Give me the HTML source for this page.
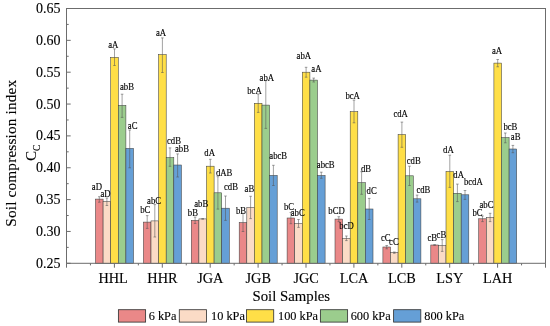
<!DOCTYPE html>
<html lang="en"><head><meta charset="utf-8"><title>Soil compression index</title>
<style>html,body{margin:0;padding:0;background:#fff}svg{display:block}text{font-family:"Liberation Serif","Times New Roman",serif;fill:#000;stroke:#000;stroke-width:0.12px}</style></head><body>
<svg width="550" height="326" viewBox="0 0 550 326">
<rect width="550" height="326" fill="#fff"/>
<g stroke="#404040" stroke-width="0.55">
<rect x="95.50" y="199.1" width="7.6" height="64.2" fill="#ea8888"/>
<rect x="103.10" y="201.4" width="7.6" height="61.9" fill="#fbdbc6"/>
<rect x="110.70" y="57.4" width="7.6" height="205.9" fill="#ffdf47"/>
<rect x="118.30" y="105.4" width="7.6" height="157.9" fill="#9bcd8d"/>
<rect x="125.90" y="148.4" width="7.6" height="114.9" fill="#659fd6"/>
<rect x="143.40" y="222.1" width="7.6" height="41.2" fill="#ea8888"/>
<rect x="151.00" y="220.9" width="7.6" height="42.4" fill="#fbdbc6"/>
<rect x="158.60" y="54.6" width="7.6" height="208.7" fill="#ffdf47"/>
<rect x="166.20" y="157.6" width="7.6" height="105.7" fill="#9bcd8d"/>
<rect x="173.80" y="165.0" width="7.6" height="98.3" fill="#659fd6"/>
<rect x="191.30" y="220.4" width="7.6" height="42.9" fill="#ea8888"/>
<rect x="198.90" y="218.9" width="7.6" height="44.4" fill="#fbdbc6"/>
<rect x="206.50" y="166.2" width="7.6" height="97.1" fill="#ffdf47"/>
<rect x="214.10" y="192.8" width="7.6" height="70.5" fill="#9bcd8d"/>
<rect x="221.70" y="208.2" width="7.6" height="55.1" fill="#659fd6"/>
<rect x="239.20" y="222.6" width="7.6" height="40.7" fill="#ea8888"/>
<rect x="246.80" y="207.5" width="7.6" height="55.8" fill="#fbdbc6"/>
<rect x="254.40" y="103.3" width="7.6" height="160.0" fill="#ffdf47"/>
<rect x="262.00" y="105.1" width="7.6" height="158.2" fill="#9bcd8d"/>
<rect x="269.60" y="175.4" width="7.6" height="87.9" fill="#659fd6"/>
<rect x="287.10" y="218.0" width="7.6" height="45.3" fill="#ea8888"/>
<rect x="294.70" y="223.5" width="7.6" height="39.8" fill="#fbdbc6"/>
<rect x="302.30" y="72.2" width="7.6" height="191.1" fill="#ffdf47"/>
<rect x="309.90" y="80.1" width="7.6" height="183.2" fill="#9bcd8d"/>
<rect x="317.50" y="175.5" width="7.6" height="87.8" fill="#659fd6"/>
<rect x="335.00" y="219.1" width="7.6" height="44.2" fill="#ea8888"/>
<rect x="342.60" y="238.4" width="7.6" height="24.9" fill="#fbdbc6"/>
<rect x="350.20" y="111.7" width="7.6" height="151.6" fill="#ffdf47"/>
<rect x="357.80" y="182.7" width="7.6" height="80.6" fill="#9bcd8d"/>
<rect x="365.40" y="209.0" width="7.6" height="54.3" fill="#659fd6"/>
<rect x="382.90" y="247.0" width="7.6" height="16.3" fill="#ea8888"/>
<rect x="390.50" y="252.5" width="7.6" height="10.8" fill="#fbdbc6"/>
<rect x="398.10" y="134.6" width="7.6" height="128.7" fill="#ffdf47"/>
<rect x="405.70" y="175.8" width="7.6" height="87.5" fill="#9bcd8d"/>
<rect x="413.30" y="198.8" width="7.6" height="64.5" fill="#659fd6"/>
<rect x="430.80" y="245.0" width="7.6" height="18.3" fill="#ea8888"/>
<rect x="438.40" y="245.5" width="7.6" height="17.8" fill="#fbdbc6"/>
<rect x="446.00" y="171.5" width="7.6" height="91.8" fill="#ffdf47"/>
<rect x="453.60" y="193.3" width="7.6" height="70.0" fill="#9bcd8d"/>
<rect x="461.20" y="194.8" width="7.6" height="68.5" fill="#659fd6"/>
<rect x="478.70" y="218.8" width="7.6" height="44.5" fill="#ea8888"/>
<rect x="486.30" y="217.5" width="7.6" height="45.8" fill="#fbdbc6"/>
<rect x="493.90" y="63.1" width="7.6" height="200.2" fill="#ffdf47"/>
<rect x="501.50" y="137.6" width="7.6" height="125.7" fill="#9bcd8d"/>
<rect x="509.10" y="149.0" width="7.6" height="114.3" fill="#659fd6"/>
</g>
<g stroke="#555" stroke-width="0.55" fill="none">
<path d="M99.30 196.7V202.2M98.00 196.7H100.60M98.00 202.2H100.60"/>
<path d="M106.90 198.0V205.5M105.60 198.0H108.20M105.60 205.5H108.20"/>
<path d="M114.50 48.9V65.5M113.20 48.9H115.80M113.20 65.5H115.80"/>
<path d="M122.10 94.2V117.4M120.80 94.2H123.40M120.80 117.4H123.40"/>
<path d="M129.70 130.0V167.8M128.40 130.0H131.00M128.40 167.8H131.00"/>
<path d="M147.20 215.6V228.4M145.90 215.6H148.50M145.90 228.4H148.50"/>
<path d="M154.80 204.6V237.0M153.50 204.6H156.10M153.50 237.0H156.10"/>
<path d="M162.40 37.9V72.5M161.10 37.9H163.70M161.10 72.5H163.70"/>
<path d="M170.00 147.9V166.3M168.70 147.9H171.30M168.70 166.3H171.30"/>
<path d="M177.60 153.9V177.0M176.30 153.9H178.90M176.30 177.0H178.90"/>
<path d="M195.10 217.1V223.5M193.80 217.1H196.40M193.80 223.5H196.40"/>
<path d="M202.70 218.6V219.2M201.40 218.6H204.00M201.40 219.2H204.00"/>
<path d="M210.30 159.3V173.0M209.00 159.3H211.60M209.00 173.0H211.60"/>
<path d="M217.90 176.7V209.1M216.60 176.7H219.20M216.60 209.1H219.20"/>
<path d="M225.50 196.0V220.4M224.20 196.0H226.80M224.20 220.4H226.80"/>
<path d="M243.00 213.4V231.5M241.70 213.4H244.30M241.70 231.5H244.30"/>
<path d="M250.60 196.3V218.6M249.30 196.3H251.90M249.30 218.6H251.90"/>
<path d="M258.20 94.0V112.4M256.90 94.0H259.50M256.90 112.4H259.50"/>
<path d="M265.80 80.6V128.4M264.50 80.6H267.10M264.50 128.4H267.10"/>
<path d="M273.40 165.3V185.5M272.10 165.3H274.70M272.10 185.5H274.70"/>
<path d="M290.90 212.5V223.7M289.60 212.5H292.20M289.60 223.7H292.20"/>
<path d="M298.50 219.5V227.4M297.20 219.5H299.80M297.20 227.4H299.80"/>
<path d="M306.10 67.3V77.2M304.80 67.3H307.40M304.80 77.2H307.40"/>
<path d="M313.70 78.1V82.0M312.40 78.1H315.00M312.40 82.0H315.00"/>
<path d="M321.30 172.2V178.3M320.00 172.2H322.60M320.00 178.3H322.60"/>
<path d="M338.80 216.7V221.7M337.50 216.7H340.10M337.50 221.7H340.10"/>
<path d="M346.40 236.0V240.6M345.10 236.0H347.70M345.10 240.6H347.70"/>
<path d="M354.00 100.1V122.8M352.70 100.1H355.30M352.70 122.8H355.30"/>
<path d="M361.60 171.7V194.3M360.30 171.7H362.90M360.30 194.3H362.90"/>
<path d="M369.20 198.4V219.5M367.90 198.4H370.50M367.90 219.5H370.50"/>
<path d="M386.70 245.5V248.8M385.40 245.5H388.00M385.40 248.8H388.00"/>
<path d="M394.30 252.0V253.3M393.00 252.0H395.60M393.00 253.3H395.60"/>
<path d="M401.90 122.1V147.3M400.60 122.1H403.20M400.60 147.3H403.20"/>
<path d="M409.50 166.2V185.5M408.20 166.2H410.80M408.20 185.5H410.80"/>
<path d="M417.10 195.1V202.1M415.80 195.1H418.40M415.80 202.1H418.40"/>
<path d="M434.60 244.7V245.3M433.30 244.7H435.90M433.30 245.3H435.90"/>
<path d="M442.20 239.6V251.4M440.90 239.6H443.50M440.90 251.4H443.50"/>
<path d="M449.80 155.2V187.4M448.50 155.2H451.10M448.50 187.4H451.10"/>
<path d="M457.40 184.1V201.6M456.10 184.1H458.70M456.10 201.6H458.70"/>
<path d="M465.00 190.5V199.4M463.70 190.5H466.30M463.70 199.4H466.30"/>
<path d="M482.50 216.0V221.6M481.20 216.0H483.80M481.20 221.6H483.80"/>
<path d="M490.10 213.3V221.6M488.80 213.3H491.40M488.80 221.6H491.40"/>
<path d="M497.70 59.5V66.8M496.40 59.5H499.00M496.40 66.8H499.00"/>
<path d="M505.30 133.0V142.8M504.00 133.0H506.60M504.00 142.8H506.60"/>
<path d="M512.90 145.4V152.7M511.60 145.4H514.20M511.60 152.7H514.20"/>
</g>
<rect x="66.5" y="8.5" width="479.0" height="254.8" fill="none" stroke="#6c6c6c" stroke-width="1"/>
<path d="M66.5 263.30h4.2M66.5 247.38h2.2M66.5 231.45h4.2M66.5 215.53h2.2M66.5 199.60h4.2M66.5 183.68h2.2M66.5 167.75h4.2M66.5 151.82h2.2M66.5 135.90h4.2M66.5 119.98h2.2M66.5 104.05h4.2M66.5 88.13h2.2M66.5 72.20h4.2M66.5 56.27h2.2M66.5 40.35h4.2M66.5 24.42h2.2M66.5 8.50h4.2M66.50 263.3v4.4M90.45 263.3v2.1M114.40 263.3v4.4M138.35 263.3v2.1M162.30 263.3v4.4M186.25 263.3v2.1M210.20 263.3v4.4M234.15 263.3v2.1M258.10 263.3v4.4M282.05 263.3v2.1M306.00 263.3v4.4M329.95 263.3v2.1M353.90 263.3v4.4M377.85 263.3v2.1M401.80 263.3v4.4M425.75 263.3v2.1M449.70 263.3v4.4M473.65 263.3v2.1M497.60 263.3v4.4M521.55 263.3v2.1M545.50 263.3v4.4" stroke="#6c6c6c" stroke-width="1" fill="none"/>
<g font-size="14" text-anchor="end">
<text x="60.6" y="267.7">0.25</text>
<text x="60.6" y="235.9">0.30</text>
<text x="60.6" y="204.0">0.35</text>
<text x="60.6" y="172.2">0.40</text>
<text x="60.6" y="140.3">0.45</text>
<text x="60.6" y="108.5">0.50</text>
<text x="60.6" y="76.6">0.55</text>
<text x="60.6" y="44.7">0.60</text>
<text x="60.6" y="12.9">0.65</text>
</g>
<g font-size="14.3" text-anchor="middle">
<text transform="translate(113.1 282.5) scale(1 1.045)">HHL</text>
<text transform="translate(162.4 282.5) scale(1 1.045)">HHR</text>
<text transform="translate(210.3 282.5) scale(1 1.045)">JGA</text>
<text transform="translate(258.2 282.5) scale(1 1.045)">JGB</text>
<text transform="translate(306.1 282.5) scale(1 1.045)">JGC</text>
<text transform="translate(354.0 282.5) scale(1 1.045)">LCA</text>
<text transform="translate(401.9 282.5) scale(1 1.045)">LCB</text>
<text transform="translate(449.8 282.5) scale(1 1.045)">LSY</text>
<text transform="translate(497.7 282.5) scale(1 1.045)">LAH</text>
</g>
<text transform="translate(291.3 301.2) scale(1 1.05)" font-size="14.8" text-anchor="middle">Soil Samples</text>
<text transform="translate(16.3 153.2) rotate(-90)" font-size="15.3" letter-spacing="0.15" text-anchor="middle">Soil compression index</text>
<text transform="translate(35.7 160.7) rotate(-90)" font-size="14.7">C<tspan font-size="9.6" dy="4.3">C</tspan></text>
<g font-size="8.7" stroke-width="0.12">
<text transform="translate(91.8 190.0) scale(1 1.08)">aD</text>
<text transform="translate(100.5 197.1) scale(1 1.08)">aD</text>
<text transform="translate(108.2 48.0) scale(1 1.08)">aA</text>
<text transform="translate(120.0 90.0) scale(1 1.08)">abB</text>
<text transform="translate(127.8 129.2) scale(1 1.08)">aC</text>
<text transform="translate(140.2 212.8) scale(1 1.08)">bC</text>
<text transform="translate(147.1 203.5) scale(1 1.08)">abC</text>
<text transform="translate(155.9 36.4) scale(1 1.08)">aA</text>
<text transform="translate(167.0 144.2) scale(1 1.08)">cdB</text>
<text transform="translate(175.0 151.6) scale(1 1.08)">abB</text>
<text transform="translate(187.8 215.7) scale(1 1.08)">bB</text>
<text transform="translate(194.2 206.7) scale(1 1.08)">abB</text>
<text transform="translate(204.3 155.5) scale(1 1.08)">dA</text>
<text transform="translate(215.9 176.2) scale(1 1.08)">dAB</text>
<text transform="translate(224.0 189.6) scale(1 1.08)">cdB</text>
<text transform="translate(236.0 213.9) scale(1 1.08)">bB</text>
<text transform="translate(244.6 192.2) scale(1 1.08)">aB</text>
<text transform="translate(247.2 94.1) scale(1 1.08)">bcA</text>
<text transform="translate(259.6 80.7) scale(1 1.08)">abA</text>
<text transform="translate(269.3 159.2) scale(1 1.08)">abcB</text>
<text transform="translate(284.0 209.7) scale(1 1.08)">bC</text>
<text transform="translate(290.7 215.8) scale(1 1.08)">abC</text>
<text transform="translate(296.6 59.2) scale(1 1.08)">abA</text>
<text transform="translate(311.3 72.1) scale(1 1.08)">aA</text>
<text transform="translate(316.8 167.7) scale(1 1.08)">abcB</text>
<text transform="translate(328.3 214.3) scale(1 1.08)">bCD</text>
<text transform="translate(339.3 228.9) scale(1 1.08)">bcD</text>
<text transform="translate(345.4 99.2) scale(1 1.08)">bcA</text>
<text transform="translate(361.0 171.7) scale(1 1.08)">dB</text>
<text transform="translate(366.6 193.8) scale(1 1.08)">dC</text>
<text transform="translate(380.9 241.0) scale(1 1.08)">cC</text>
<text transform="translate(389.1 244.5) scale(1 1.08)">cC</text>
<text transform="translate(393.4 117.0) scale(1 1.08)">cdA</text>
<text transform="translate(406.7 164.2) scale(1 1.08)">cdB</text>
<text transform="translate(416.4 192.8) scale(1 1.08)">cdB</text>
<text transform="translate(427.5 241.3) scale(1 1.08)">cB</text>
<text transform="translate(436.6 237.8) scale(1 1.08)">cB</text>
<text transform="translate(443.1 153.4) scale(1 1.08)">dA</text>
<text transform="translate(453.3 177.7) scale(1 1.08)">dA</text>
<text transform="translate(463.9 185.3) scale(1 1.08)">bcdA</text>
<text transform="translate(472.5 216.1) scale(1 1.08)">bC</text>
<text transform="translate(479.5 208.2) scale(1 1.08)">abC</text>
<text transform="translate(492.0 54.0) scale(1 1.08)">aA</text>
<text transform="translate(503.4 130.3) scale(1 1.08)">bcB</text>
<text transform="translate(510.8 140.2) scale(1 1.08)">aB</text>
</g>
<g font-size="12.3">
<rect x="118.4" y="309.7" width="27.2" height="12.4" fill="#ea8888" stroke="#363636" stroke-width="0.85"/>
<text x="148.7" y="320.1">6 kPa</text>
<rect x="179.3" y="309.7" width="27.2" height="12.4" fill="#fbdbc6" stroke="#363636" stroke-width="0.85"/>
<text x="211.1" y="320.1">10 kPa</text>
<rect x="246.5" y="309.7" width="27.2" height="12.4" fill="#ffdf47" stroke="#363636" stroke-width="0.85"/>
<text x="278.0" y="320.1">100 kPa</text>
<rect x="320.4" y="309.7" width="27.2" height="12.4" fill="#9bcd8d" stroke="#363636" stroke-width="0.85"/>
<text x="350.7" y="320.1">600 kPa</text>
<rect x="393.6" y="309.7" width="27.2" height="12.4" fill="#659fd6" stroke="#363636" stroke-width="0.85"/>
<text x="424.3" y="320.1">800 kPa</text>
</g>
</svg></body></html>
